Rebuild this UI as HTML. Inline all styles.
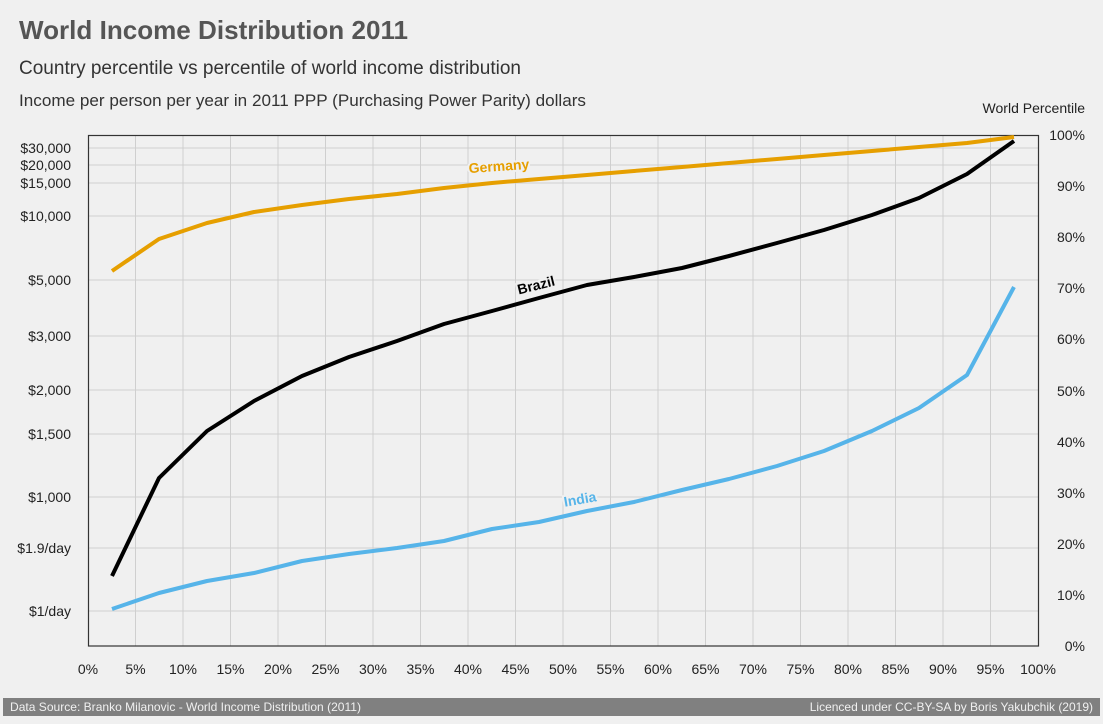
<!DOCTYPE html>
<html><head><meta charset="utf-8"><style>
body{margin:0;background:#f0f0f0;width:1103px;height:719px;overflow:hidden;font-family:"Liberation Sans",Arial,sans-serif}
</style></head><body>
<svg width="1103" height="719" viewBox="0 0 1103 719" xmlns="http://www.w3.org/2000/svg" font-family="Liberation Sans, Arial, sans-serif">
<rect width="1103" height="719" fill="#f0f0f0"/>
<text x="19" y="39" font-size="26" font-weight="bold" fill="#555" textLength="389" lengthAdjust="spacingAndGlyphs">World Income Distribution 2011</text>
<text x="19" y="74" font-size="19" fill="#333" textLength="502" lengthAdjust="spacingAndGlyphs">Country percentile vs percentile of world income distribution</text>
<text x="19" y="106" font-size="16.5" fill="#333" textLength="567" lengthAdjust="spacingAndGlyphs">Income per person per year in 2011 PPP (Purchasing Power Parity) dollars</text>
<text x="1085" y="113" font-size="14" fill="#222" text-anchor="end">World Percentile</text>
<g stroke="#cfcfcf" stroke-width="1">
<line x1="135.5" y1="135" x2="135.5" y2="646"/><line x1="183" y1="135" x2="183" y2="646"/><line x1="230.5" y1="135" x2="230.5" y2="646"/><line x1="278" y1="135" x2="278" y2="646"/><line x1="325.5" y1="135" x2="325.5" y2="646"/><line x1="373" y1="135" x2="373" y2="646"/><line x1="420.5" y1="135" x2="420.5" y2="646"/><line x1="468" y1="135" x2="468" y2="646"/><line x1="515.5" y1="135" x2="515.5" y2="646"/><line x1="563" y1="135" x2="563" y2="646"/><line x1="610.5" y1="135" x2="610.5" y2="646"/><line x1="658" y1="135" x2="658" y2="646"/><line x1="705.5" y1="135" x2="705.5" y2="646"/><line x1="753" y1="135" x2="753" y2="646"/><line x1="800.5" y1="135" x2="800.5" y2="646"/><line x1="848" y1="135" x2="848" y2="646"/><line x1="895.5" y1="135" x2="895.5" y2="646"/><line x1="943" y1="135" x2="943" y2="646"/><line x1="990.5" y1="135" x2="990.5" y2="646"/>
<line x1="88" y1="148" x2="1038" y2="148"/><line x1="88" y1="165" x2="1038" y2="165"/><line x1="88" y1="183" x2="1038" y2="183"/><line x1="88" y1="216" x2="1038" y2="216"/><line x1="88" y1="280" x2="1038" y2="280"/><line x1="88" y1="336" x2="1038" y2="336"/><line x1="88" y1="390" x2="1038" y2="390"/><line x1="88" y1="434" x2="1038" y2="434"/><line x1="88" y1="497" x2="1038" y2="497"/><line x1="88" y1="548" x2="1038" y2="548"/><line x1="88" y1="611" x2="1038" y2="611"/>
</g>
<rect x="88.5" y="135.5" width="950" height="510.5" fill="none" stroke="#333" stroke-width="1.2"/>
<g font-size="14" fill="#222" text-anchor="end">
<text x="71" y="153">$30,000</text><text x="71" y="170">$20,000</text><text x="71" y="188">$15,000</text><text x="71" y="221">$10,000</text><text x="71" y="285">$5,000</text><text x="71" y="341">$3,000</text><text x="71" y="395">$2,000</text><text x="71" y="439">$1,500</text><text x="71" y="502">$1,000</text><text x="71" y="553">$1.9/day</text><text x="71" y="616">$1/day</text>
</g>
<g font-size="14" fill="#222" text-anchor="end">
<text x="1085" y="140">100%</text><text x="1085" y="191">90%</text><text x="1085" y="242">80%</text><text x="1085" y="293">70%</text><text x="1085" y="344">60%</text><text x="1085" y="396">50%</text><text x="1085" y="447">40%</text><text x="1085" y="498">30%</text><text x="1085" y="549">20%</text><text x="1085" y="600">10%</text><text x="1085" y="651">0%</text>
</g>
<g font-size="14" fill="#222" text-anchor="middle">
<text x="88" y="674">0%</text><text x="135.5" y="674">5%</text><text x="183" y="674">10%</text><text x="230.5" y="674">15%</text><text x="278" y="674">20%</text><text x="325.5" y="674">25%</text><text x="373" y="674">30%</text><text x="420.5" y="674">35%</text><text x="468" y="674">40%</text><text x="515.5" y="674">45%</text><text x="563" y="674">50%</text><text x="610.5" y="674">55%</text><text x="658" y="674">60%</text><text x="705.5" y="674">65%</text><text x="753" y="674">70%</text><text x="800.5" y="674">75%</text><text x="848" y="674">80%</text><text x="895.5" y="674">85%</text><text x="943" y="674">90%</text><text x="990.5" y="674">95%</text><text x="1038" y="674">100%</text>
</g>
<g fill="none" stroke-width="4" stroke-linejoin="round">
<polyline stroke="#e69f00" points="112,271 159,239 207,223 254,212 302,205 349,199 397,194 444,188 492,183 539,179 587,175 634,171 682,167 729,163 777,159 824,155 872,151 919,147 967,143 1014,137"/>
<polyline stroke="#000" points="112,576 159,478 207,431 254,401 302,376 349,357 397,341 444,324 492,311 539,298 587,285 634,277 682,268 729,256 777,243 824,230 872,215 919,198 967,174 1014,141"/>
<polyline stroke="#56b4e9" points="112,609 159,593 207,581 254,573 302,561 349,554 397,548 444,541 492,529 539,522 587,511 634,502 682,490 729,479 777,466 824,451 872,431 919,408 967,375 1014,287"/>
</g>
<g font-size="14" font-weight="bold" text-anchor="middle" stroke="#f0f0f0" stroke-width="4" paint-order="stroke">
<text x="499" y="171" fill="#e69f00" transform="rotate(-4 499 167)">Germany</text>
<text x="536" y="290" fill="#000" transform="rotate(-14 536 285)">Brazil</text>
<text x="580" y="504" fill="#56b4e9" transform="rotate(-10 580 499)">India</text>
</g>
<rect x="3" y="698" width="1097" height="18" fill="#808080"/>
<text x="10" y="711" font-size="12" fill="#f0f0f0" textLength="351" lengthAdjust="spacingAndGlyphs">Data Source: Branko Milanovic - World Income Distribution (2011)</text>
<text x="1093" y="711" font-size="12" fill="#f0f0f0" text-anchor="end">Licenced under CC-BY-SA by Boris Yakubchik (2019)</text>
</svg>
</body></html>
